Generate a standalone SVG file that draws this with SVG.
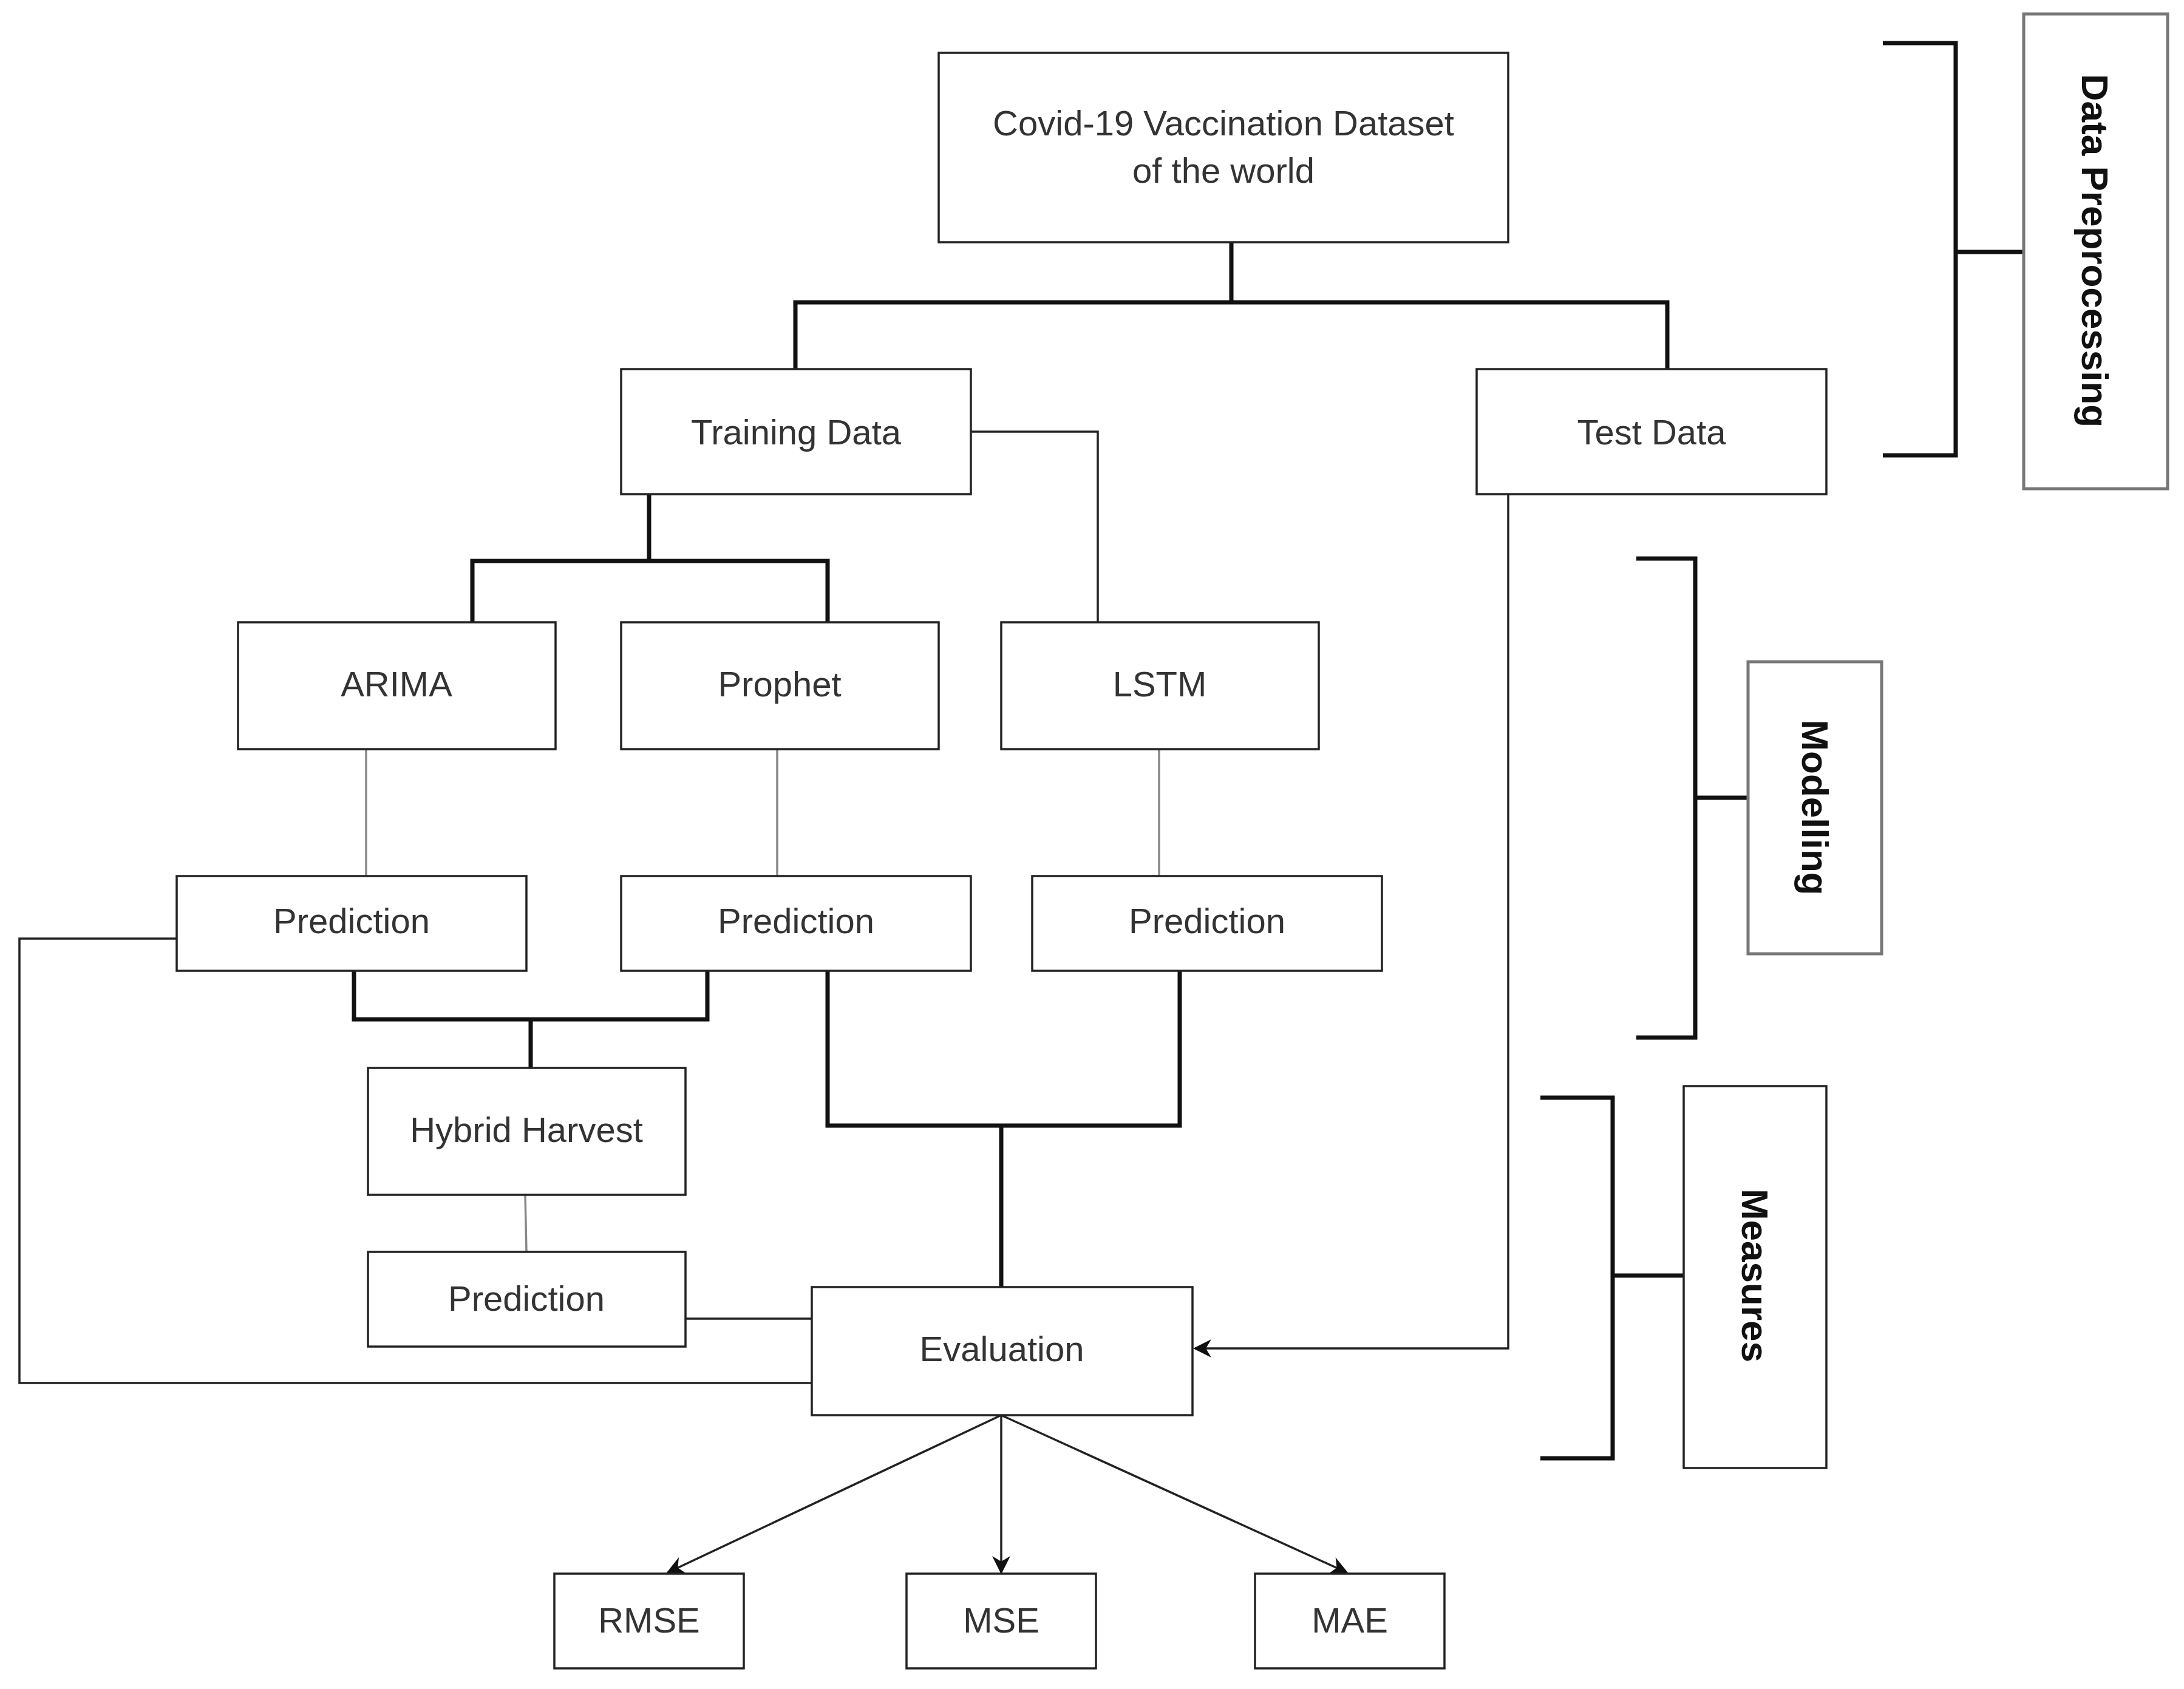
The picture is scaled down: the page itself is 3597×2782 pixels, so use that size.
<svg xmlns="http://www.w3.org/2000/svg" width="3597" height="2782" viewBox="0 0 3597 2782">
<style>
.b{fill:#fff;stroke:#222;stroke-width:3.5}
.g{fill:#fff;stroke:#777;stroke-width:5}
.t{font-family:"Liberation Sans",Arial,sans-serif;font-size:58px;fill:#333;text-anchor:middle;dominant-baseline:central}
.r{font-family:"Liberation Sans",Arial,sans-serif;font-size:62px;font-weight:bold;fill:#111;text-anchor:middle;dominant-baseline:central}
.k{fill:none;stroke:#111;stroke-width:7}
.n{fill:none;stroke:#222;stroke-width:3.5}
.h{fill:none;stroke:#888;stroke-width:3.5}
</style>
<defs><marker id="a" markerWidth="12" markerHeight="10" refX="10" refY="5" orient="auto" markerUnits="userSpaceOnUse" viewBox="0 0 12 10"><path d="M0,0 L12,5 L0,10 Z" fill="#111"/></marker>
<marker id="A" viewBox="0 0 10 10" refX="9" refY="5" markerWidth="36" markerHeight="30" orient="auto" markerUnits="userSpaceOnUse"><path d="M0,0 L10,5 L0,10 L3,5 Z" fill="#111"/></marker></defs>
<rect width="3597" height="2782" fill="#fff"/>
<g id="connectors">
<path class="k" d="M2028,399 V498 M1310,608 V498 H2746 V608"/>
<path class="n" d="M1599,711 H1808 V1025"/>
<path class="k" d="M1069,814 V924 M778,1025 V924 H1363 V1025"/>
<path class="h" d="M603,1234 V1443 M1280,1234 V1443 M1909,1234 V1443 M865,1968 L867,2062"/>
<path class="k" d="M583,1599 V1679 H1165 V1599 M874,1679 V1759"/>
<path class="k" d="M1363,1599 V1854 H1943 V1599 M1649,1854 V2120"/>
<path class="n" d="M1129,2172 H1337 M291,1546 H32 V2278 H1337"/>
<path class="n" d="M2484,814 V2221 H1968" marker-end="url(#A)"/>
<path class="n" d="M1649,2331 L1100,2590" marker-end="url(#A)"/>
<path class="n" d="M1649,2331 V2590" marker-end="url(#A)"/>
<path class="n" d="M1649,2331 L2218,2590" marker-end="url(#A)"/>
<path class="k" d="M3101,71 H3221 V750 H3101 M3221,415 H3335"/>
<path class="k" d="M2695,920 H2792 V1709 H2695 M2792,1314 H2879"/>
<path class="k" d="M2537,1808 H2656 V2402 H2537 M2656,2101 H2773"/>
</g>
<g id="dataset"><rect class="b" x="1546" y="87" width="938" height="312"/><text class="t" x="2015" y="202">Covid-19 Vaccination Dataset</text><text class="t" x="2015" y="280">of the world</text></g>
<g id="training"><rect class="b" x="1023" y="608" width="576" height="206"/><text class="t" x="1311" y="711">Training Data</text></g>
<g id="test"><rect class="b" x="2432" y="608" width="576" height="206"/><text class="t" x="2720" y="711">Test Data</text></g>
<g id="arima"><rect class="b" x="392" y="1025" width="523" height="209"/><text class="t" x="653" y="1126">ARIMA</text></g>
<g id="prophet"><rect class="b" x="1023" y="1025" width="523" height="209"/><text class="t" x="1284" y="1126">Prophet</text></g>
<g id="lstm"><rect class="b" x="1649" y="1025" width="523" height="209"/><text class="t" x="1910" y="1126">LSTM</text></g>
<g id="pred1"><rect class="b" x="291" y="1443" width="576" height="156"/><text class="t" x="579" y="1516">Prediction</text></g>
<g id="pred2"><rect class="b" x="1023" y="1443" width="576" height="156"/><text class="t" x="1311" y="1516">Prediction</text></g>
<g id="pred3"><rect class="b" x="1700" y="1443" width="576" height="156"/><text class="t" x="1988" y="1516">Prediction</text></g>
<g id="hybrid"><rect class="b" x="606" y="1759" width="523" height="209"/><text class="t" x="867" y="1860">Hybrid Harvest</text></g>
<g id="pred4"><rect class="b" x="606" y="2062" width="523" height="156"/><text class="t" x="867" y="2138">Prediction</text></g>
<g id="evaluation"><rect class="b" x="1337" y="2120" width="627" height="211"/><text class="t" x="1650" y="2221">Evaluation</text></g>
<g id="rmse"><rect class="b" x="913" y="2592" width="312" height="156"/><text class="t" x="1069" y="2668">RMSE</text></g>
<g id="mse"><rect class="b" x="1493" y="2592" width="312" height="156"/><text class="t" x="1649" y="2668">MSE</text></g>
<g id="mae"><rect class="b" x="2067" y="2592" width="312" height="156"/><text class="t" x="2223" y="2668">MAE</text></g>
<g id="label-dp"><rect class="g" x="3333" y="23" width="237" height="782"/><text class="r" transform="translate(3450,413) rotate(90)">Data Preprocessing</text></g>
<g id="label-mod"><rect class="g" x="2879" y="1090" width="220" height="481"/><text class="r" transform="translate(2989,1330) rotate(90)">Modelling</text></g>
<g id="label-meas"><rect class="b" x="2773" y="1789" width="235" height="629"/><text class="r" transform="translate(2890,2101) rotate(90)">Measures</text></g>
</svg>
